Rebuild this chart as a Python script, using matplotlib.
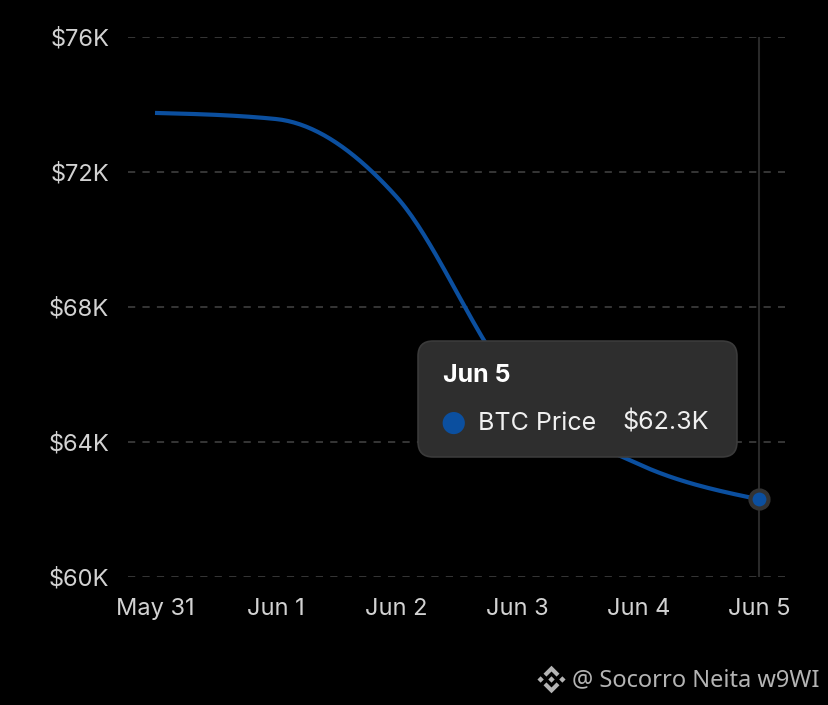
import numpy as np
import matplotlib
matplotlib.use('Agg')
import matplotlib.pyplot as plt
from matplotlib.patches import FancyBboxPatch, Polygon

# 数据
dates = ['May 31', 'Jun 1', 'Jun 2', 'Jun 3', 'Jun 4', 'Jun 5']
btc_price = [73.75, 73.57, 71.26, 65.6, 63.35, 62.3]  # 单位: K USD
y_ticks = [60, 64, 68, 72, 76]

BG = '#000000'
LINE = '#0b4f9f'
GRID = '#3a3a3a'
TEXT = '#d2d2d2'


def monotone_curve(x, y, n=40):
    """d3 curveMonotoneX 风格的平滑，仅用于画线"""
    x = np.asarray(x, float)
    y = np.asarray(y, float)
    h = np.diff(x)
    s = np.diff(y) / h
    m = np.zeros_like(y)
    for i in range(1, len(y) - 1):
        p = (s[i - 1] * h[i] + s[i] * h[i - 1]) / (h[i - 1] + h[i])
        m[i] = (np.sign(s[i - 1]) + np.sign(s[i])) * min(abs(s[i - 1]), abs(s[i]), 0.5 * abs(p))
    m[0] = (3 * s[0] - m[1]) / 2
    m[-1] = (3 * s[-1] - m[-2]) / 2
    xs, ys = [], []
    for i in range(len(x) - 1):
        t = np.linspace(0, 1, n, endpoint=False)
        h00 = 2 * t**3 - 3 * t**2 + 1
        h10 = t**3 - 2 * t**2 + t
        h01 = -2 * t**3 + 3 * t**2
        h11 = t**3 - t**2
        xs.append(x[i] + t * h[i])
        ys.append(h00 * y[i] + h10 * h[i] * m[i] + h01 * y[i + 1] + h11 * h[i] * m[i + 1])
    xs.append([x[-1]])
    ys.append([y[-1]])
    return np.concatenate(xs), np.concatenate(ys)


plt.rcParams['font.family'] = ['Inter', 'DejaVu Sans']

fig = plt.figure(figsize=(8.29, 7.05), dpi=100, facecolor=BG)
ax = fig.add_axes([128 / 829, 128 / 705, 657 / 829, 540 / 705])
ax.set_facecolor(BG)

x = np.arange(len(dates))
xs, ys = monotone_curve(x, btc_price)

ax.set_xlim(-0.2235, 5.215)
ax.set_ylim(60, 76)

# 网格
for v in y_ticks:
    ax.axhline(v, color=GRID, lw=1.3, ls=(0, (4, 4)), zorder=1)

# 游标竖线
ax.axvline(x[-1], color='#2a2a2a', lw=1.5, zorder=2)

ax.plot(xs, ys, color=LINE, lw=3.0, solid_capstyle='butt', zorder=3)
ax.plot(x[-1], btc_price[-1], 'o', ms=13, mfc=LINE, mec='#333333', mew=3, zorder=4)

for s in ax.spines.values():
    s.set_visible(False)
ax.set_xticks(x)
ax.set_xticklabels(dates)
ax.set_yticks(y_ticks)
ax.set_yticklabels([f'${v}K' for v in y_ticks])
ax.tick_params(length=0, colors=TEXT, labelsize=17)
ax.tick_params(axis='y', pad=13.5)
ax.tick_params(axis='x', pad=15)

# 提示框
tip = FancyBboxPatch((428 / 829, (705 - 447) / 705), 299 / 829, 96 / 705,
                     boxstyle='round,pad=0.012,rounding_size=0.018',
                     transform=fig.transFigure, fc='#2e2e2e', ec='#3b3b3b', lw=1.2,
                     zorder=10, mutation_aspect=829 / 705)
fig.patches.append(tip)
fig.text(443 / 829, 1 - 376 / 705, dates[-1], color='white', fontsize=18,
         fontweight='bold', va='center', ha='left', zorder=11)
fig.text(453 / 829, 1 - 423 / 705, '●', color=LINE, fontsize=21, va='center',
         ha='center', family='DejaVu Sans', zorder=11)
fig.text(478 / 829, 1 - 423 / 705, 'BTC Price', color='#f0f0f0', fontsize=18,
         va='center', ha='left', zorder=11)
fig.text(622 / 829, 1 - 423 / 705, f'${btc_price[-1]}K', color='#f0f0f0', fontsize=18,
         va='center', ha='left', zorder=11)

# 水印
fig.text(572 / 829, 1 - 680 / 705, '@ Socorro Neita w9WI', color='#b4b4b4',
         fontsize=17, family='Noto Sans', va='center', ha='left')
iax = fig.add_axes([537 / 829, (705 - 694) / 705, 29 / 829, 29 / 705])
iax.set_xlim(-1, 1)
iax.set_ylim(-1, 1)
iax.axis('off')
ic = '#b4b4b4'
iax.add_patch(Polygon([(0, 0.22), (0.22, 0), (0, -0.22), (-0.22, 0)], fc=ic, ec='none'))
iax.add_patch(Polygon([(-0.75, 0.22), (-0.53, 0), (-0.75, -0.22), (-0.97, 0)], fc=ic, ec='none'))
iax.add_patch(Polygon([(0.75, 0.22), (0.97, 0), (0.75, -0.22), (0.53, 0)], fc=ic, ec='none'))
iax.add_patch(Polygon([(0, 0.95), (0.55, 0.4), (0.35, 0.2), (0, 0.55), (-0.35, 0.2), (-0.55, 0.4)], fc=ic, ec='none'))
iax.add_patch(Polygon([(0, -0.95), (0.55, -0.4), (0.35, -0.2), (0, -0.55), (-0.35, -0.2), (-0.55, -0.4)], fc=ic, ec='none'))

fig.savefig('out.png', dpi=100, facecolor=BG)
